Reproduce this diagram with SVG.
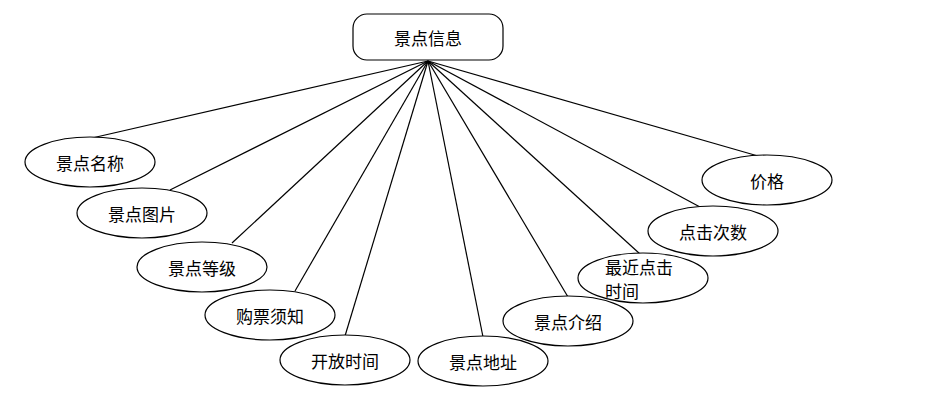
<svg xmlns="http://www.w3.org/2000/svg" width="936" height="414" viewBox="0 0 936 414">
<style>
.n{fill:#fff;stroke:#000;stroke-width:1.2}
.t{font-family:"Noto Sans CJK SC",sans-serif;font-size:17px;text-anchor:middle;dominant-baseline:central;fill:#000}
.c line{stroke:#000;stroke-width:1.2}
</style>
<rect width="936" height="414" fill="#fff"/>
<g class="c">
<line x1="428" y1="61" x2="92" y2="138"/>
<line x1="428" y1="61" x2="170" y2="190"/>
<line x1="428" y1="61" x2="232" y2="243"/>
<line x1="428" y1="61" x2="295" y2="291"/>
<line x1="428" y1="61" x2="345" y2="336"/>
<line x1="428" y1="61" x2="483" y2="337"/>
<line x1="428" y1="61" x2="568" y2="297"/>
<line x1="428" y1="61" x2="640" y2="254"/>
<line x1="428" y1="61" x2="700" y2="207"/>
<line x1="428" y1="61" x2="758" y2="156"/>
</g>
<g id="root"><rect class="n" x="353" y="14" width="150" height="46" rx="14"/><text class="t" x="428" y="37" font-size="19">景点信息</text></g>
<g id="n1"><ellipse class="n" cx="90" cy="162" rx="65" ry="25"/><text class="t" x="90" y="162">景点名称</text></g>
<g id="n2"><ellipse class="n" cx="142" cy="213" rx="65" ry="25"/><text class="t" x="142" y="213">景点图片</text></g>
<g id="n3"><ellipse class="n" cx="202" cy="267" rx="65" ry="25"/><text class="t" x="202" y="267">景点等级</text></g>
<g id="n4"><ellipse class="n" cx="270" cy="315" rx="65" ry="25"/><text class="t" x="270" y="315">购票须知</text></g>
<g id="n5"><ellipse class="n" cx="345" cy="360" rx="65" ry="25"/><text class="t" x="345" y="360">开放时间</text></g>
<g id="n6"><ellipse class="n" cx="483" cy="361" rx="65" ry="25"/><text class="t" x="483" y="361">景点地址</text></g>
<g id="n7"><ellipse class="n" cx="568" cy="321" rx="65" ry="25"/><text class="t" x="568" y="321">景点介绍</text></g>
<g id="n8"><ellipse class="n" cx="643" cy="278" rx="65" ry="25"/><text class="t" x="639" y="266" font-size="15">最近点击</text><text class="t" x="622" y="290" font-size="15">时间</text></g>
<g id="n9"><ellipse class="n" cx="713" cy="231" rx="65" ry="25"/><text class="t" x="713" y="231">点击次数</text></g>
<g id="n10"><ellipse class="n" cx="767" cy="180" rx="65" ry="25"/><text class="t" x="767" y="180">价格</text></g>
</svg>
